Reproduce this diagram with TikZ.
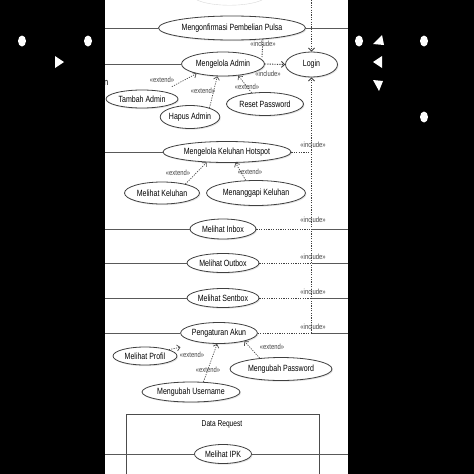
\documentclass[tikz,border=0pt]{standalone}
\usepackage{fontspec}
\setmainfont{Liberation Sans}[FakeStretch=0.78]
\usetikzlibrary{shapes.geometric,arrows.meta,shadows}

\tikzset{
  usecase/.style={ellipse, draw=black!75, line width=0.8pt, fill=white, inner sep=0pt, text=black,
    font=\fontsize{9}{10}\selectfont,
    drop shadow={shadow xshift=1pt, shadow yshift=-1.2pt, opacity=0.2}},
  stereo/.style={font=\fontsize{7.5}{8}\selectfont, text=black!75, inner sep=0pt},
  assoc/.style={draw=black!65, line width=0.8pt},
  incdot/.style={draw=black!75, line width=0.9pt, dash pattern=on 1.2pt off 1.2pt},
  incl/.style={incdot, -{Straight Barb[length=3pt,width=6pt]}},
  extarrow/.style={draw=black!70, line width=0.7pt, dash pattern=on 1.2pt off 1.2pt,
    -{Straight Barb[length=3pt,width=6pt]}},
  mark dot/.style={white, x radius=4pt, y radius=5.5pt}
}

\begin{document}
\begin{tikzpicture}[x=1pt, y=-1pt]
  \fill[black] (0,0) rectangle (474,474);
  \fill[white] (105,0) rectangle (348,474);
  \useasboundingbox (0,0) rectangle (474,474);

  % remains of the actors, outside the window
  \fill[mark dot] (22,41) ellipse [];
  \fill[mark dot] (88,41) ellipse [];
  \fill[mark dot] (359,41) ellipse [];
  \fill[mark dot] (424,41) ellipse [];
  \fill[mark dot] (424,117) ellipse [];
  \fill[white] (55,56) -- (64,62) -- (55,68) -- cycle;
  \fill[white] (373,44) -- (382,35) -- (384,45) -- cycle;
  \fill[white] (382,56) -- (373,62) -- (382,68) -- cycle;
  \fill[white] (373,80) -- (383,81) -- (379,91) -- cycle;
  \node[font=\fontsize{9.5}{10}\selectfont, anchor=east, inner sep=0pt] (actname) at (108.5,83) {n};
  \draw[black!15] (197,0) .. controls (212,7) and (247,7) .. (262,0);

  \coordinate (lft) at (105,0);
  \coordinate (rgt) at (348,0);
  \coordinate (bus) at (311.5,0);
  \coordinate (top) at (311.5,0);
  \coordinate (kinc) at (262,57);

  % use cases
  \node[usecase, minimum width=147pt, minimum height=24pt] (konfirmasi) at (232,28) {Mengonfirmasi Pembelian Pulsa};
  \node[usecase, minimum width=83pt, minimum height=24pt] (admin) at (223,64) {Mengelola Admin};
  \node[usecase, minimum width=52pt, minimum height=25pt] (login) at (311.5,64.5) {Login};
  \node[usecase, minimum width=72pt, minimum height=18pt] (tambah) at (142,99) {Tambah Admin};
  \node[usecase, minimum width=58pt, minimum height=23pt] (hapus) at (190,117) {Hapus Admin};
  \node[usecase, minimum width=77pt, minimum height=23pt] (reset) at (265,104) {Reset Password};
  \node[usecase, minimum width=128pt, minimum height=21pt] (keluhan) at (227,152) {Mengelola Keluhan Hotspot};
  \node[usecase, minimum width=75pt, minimum height=22pt] (lihatkel) at (162,193) {Melihat Keluhan};
  \node[usecase, minimum width=99pt, minimum height=25pt] (tanggapi) at (256,193) {Menanggapi Keluhan};
  \node[usecase, minimum width=66pt, minimum height=20pt] (inbox) at (223,229) {Melihat Inbox};
  \node[usecase, minimum width=72pt, minimum height=19pt] (outbox) at (223,263) {Melihat Outbox};
  \node[usecase, minimum width=72pt, minimum height=19pt] (sentbox) at (223,298) {Melihat Sentbox};
  \node[usecase, minimum width=76pt, minimum height=21pt] (akun) at (219,333) {Pengaturan Akun};
  \node[usecase, minimum width=64pt, minimum height=18pt] (profil) at (145,356) {Melihat Profil};
  \node[usecase, minimum width=98pt, minimum height=20pt] (username) at (191,392) {Mengubah Username};
  \node[usecase, minimum width=102pt, minimum height=23pt] (password) at (281,369) {Mengubah Password};

  % Data Request
  \draw[black!70, line width=0.7pt] (126,414) rectangle (319,480);
  \node[font=\fontsize{8.5}{9}\selectfont, text=black] (datareq) at (222,424) {Data Request};
  \node[usecase, minimum width=57pt, minimum height=19pt] (ipk) at (223,454) {Melihat IPK};

  % associations
  \foreach \uc in {konfirmasi, admin, keluhan, inbox, outbox, sentbox, akun, ipk}
    \draw[assoc] (\uc.west -| lft) -- (\uc.west);
  \draw[assoc] (konfirmasi.east) -- (konfirmasi.east -| rgt);
  \draw[assoc] (ipk.east) -- (ipk.east -| rgt);
  \foreach \uc in {inbox, outbox, sentbox, akun} {
    \draw[incdot] (\uc.east) -- (\uc.east -| bus);
    \draw[assoc] (\uc.east -| bus) -- (\uc.east -| rgt);
  }
  \draw[incdot] (keluhan.east) -- (keluhan.east -| bus);

  % include
  \draw[incl] (akun.east -| bus) -- (login.south);
  \draw[incl] (top) -- (login.north);
  \draw[incl] (admin.east) -- (login.west);
  \draw[incdot] (konfirmasi.-20) -- (kinc);

  % extend
  \draw[extarrow, shorten <=10pt] (tambah.20) -- (admin.-160);
  \draw[extarrow] (hapus.25) -- (admin.-115);
  \draw[extarrow] (reset.140) -- (admin.-37);
  \draw[extarrow] (lihatkel.21) -- (keluhan.-153);
  \draw[extarrow] (tanggapi.129) -- (keluhan.-52);
  \draw[extarrow, shorten >=22pt] (profil.15) -- (akun.-150);
  \draw[extarrow] (username.39) -- (akun.-100);
  \draw[extarrow] (password.153) -- (akun.-18);

  % stereotypes
  \node[stereo] (i1) at (263,44) {«include»};
  \node[stereo] (i2) at (268,74) {«include»};
  \node[stereo] (i3) at (313,145) {«include»};
  \node[stereo] (i4) at (313,220) {«include»};
  \node[stereo] (i5) at (313,257) {«include»};
  \node[stereo] (i6) at (313,292) {«include»};
  \node[stereo] (i7) at (313,327) {«include»};
  \node[stereo] (e1) at (162,80) {«extend»};
  \node[stereo] (e2) at (203,91) {«extend»};
  \node[stereo] (e3) at (247,87) {«extend»};
  \node[stereo] (e4) at (178,173) {«extend»};
  \node[stereo] (e5) at (250,172) {«extend»};
  \node[stereo] (e6) at (192,355) {«extend»};
  \node[stereo] (e7) at (208,370) {«extend»};
  \node[stereo] (e8) at (272,347) {«extend»};
\end{tikzpicture}
\end{document}
